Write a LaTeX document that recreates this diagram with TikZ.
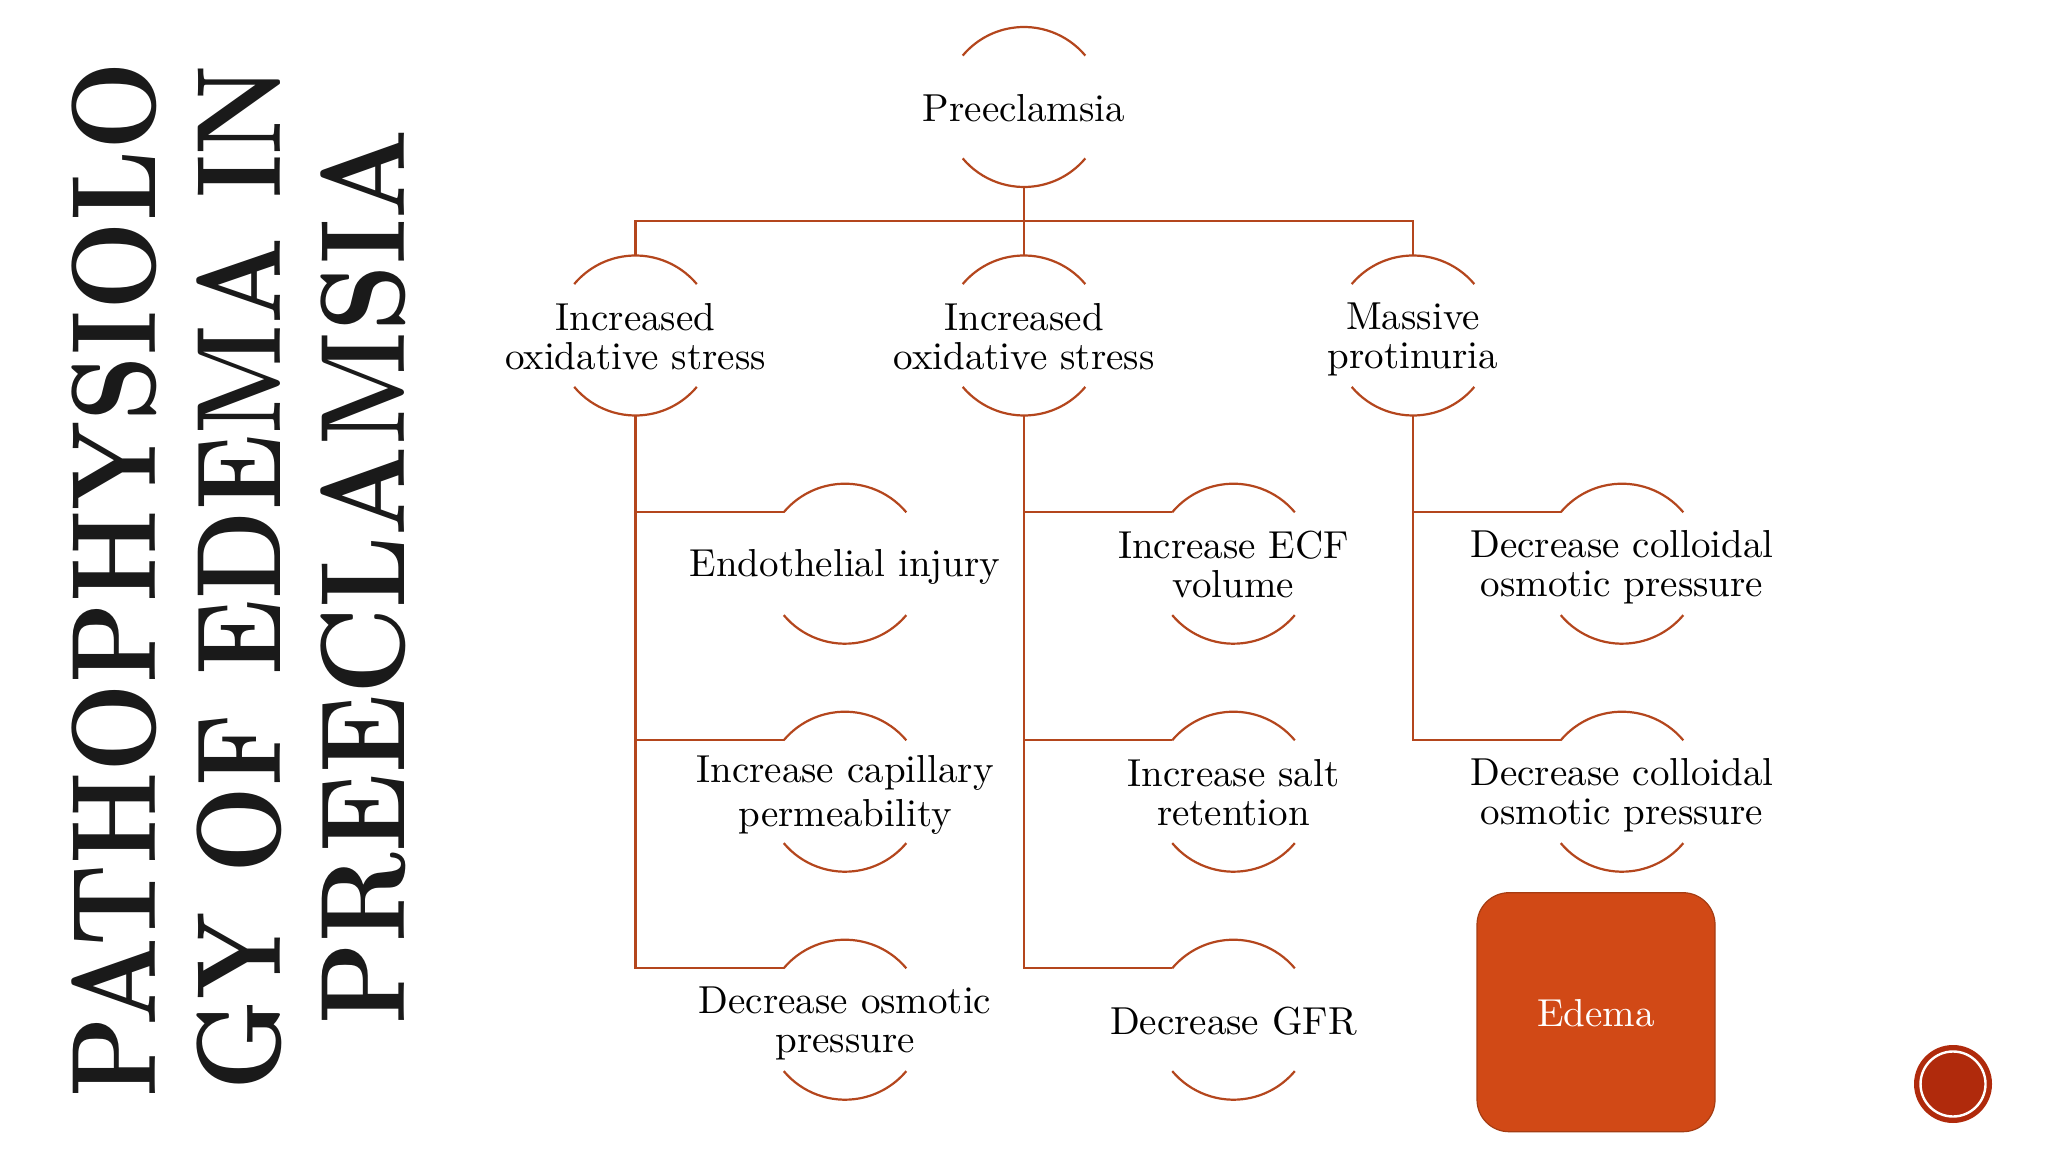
\documentclass[tikz,border=0pt]{standalone}
\usepackage{fontspec}
\setmainfont{lmroman10-regular.otf}[BoldFont=lmroman10-bold.otf, ItalicFont=lmroman10-italic.otf]
\usetikzlibrary{calc}
\definecolor{arcc}{HTML}{B4461D}
\definecolor{edfill}{HTML}{D14916}
\definecolor{edborder}{HTML}{A53C12}
\definecolor{dotc}{HTML}{B02A0C}
\definecolor{titlec}{HTML}{1A1A1A}
\newcommand{\mystrut}{\rule[-2.4pt]{0pt}{19.5pt}}
\newcommand{\mycnode}[4]{%
  \node[lbl] (#1) at (#2,#3) {#4};
  \coordinate (#1-t) at ($(#1.center)+(0,80)$);
  \coordinate (#1-b) at ($(#1.center)+(0,-80)$);
  \coordinate (#1-tl) at ($(#1.center)+(140:80)$);
  \draw[arcline] ($(#1.center)+(40:80)$) arc[start angle=40,end angle=140,radius=80];
  \draw[arcline] ($(#1.center)+(220:80)$) arc[start angle=220,end angle=320,radius=80];
}
\begin{document}
\begin{tikzpicture}[x=0.5pt,y=0.5pt,
  lbl/.style={font=\fontsize{19.5}{19.5}\selectfont, align=center, inner sep=0pt, text=black},
  arcline/.style={draw=arcc, line width=1.1pt},
  conn/.style={draw=arcc, line width=1.1pt},
  titletext/.style={rotate=90, inner sep=0pt, text=titlec, font=\fontsize{60}{60}\selectfont\bfseries},
  edemabox/.style={rectangle, rounded corners=16pt, minimum width=119pt, minimum height=119.5pt,
    fill=edfill, draw=edborder, line width=0.6pt, text=white, inner sep=0pt, font=\fontsize{19.5}{19.5}\selectfont}]
\useasboundingbox (0,0) rectangle (2048,1152);
\fill[white] (0,0) rectangle (2048,1152);

% title
\node[titletext] (t1) at (114.5,572.3) {\scalebox{0.856}[1]{PATHOPHYSIOLO}};
\node[titletext] (t2) at (239,574.5) {\scalebox{0.838}[1]{GY OF EDEMA IN}};
\node[titletext] (t3) at (363.3,575.3) {\scalebox{0.869}[1]{PREECLAMSIA}};

% nodes
\mycnode{pre}{1024}{1045}{\mystrut Preeclamsia}
\mycnode{L}{635.5}{816.5}{\mystrut Increased\\\mystrut oxidative stress}
\mycnode{M}{1024}{816.5}{\mystrut Increased\\\mystrut oxidative stress}
\mycnode{R}{1413}{816.5}{\mystrut Massive\\\mystrut protinuria}

\mycnode{La}{845}{588.3}{\mystrut Endothelial injury}
\mycnode{Lb}{845}{360.3}{\mystrut Increase capillary\\\mystrut permeability}
\mycnode{Lc}{845}{132.3}{\mystrut Decrease osmotic\\\mystrut pressure}

\mycnode{Ma}{1233.5}{588.3}{\mystrut Increase ECF\\\mystrut volume}
\mycnode{Mb}{1233.5}{360.3}{\mystrut Increase salt\\\mystrut retention}
\mycnode{Mc}{1233.5}{132.3}{\mystrut Decrease GFR}

\mycnode{Ra}{1622}{588.3}{\mystrut Decrease colloidal\\\mystrut osmotic pressure}
\mycnode{Rb}{1622}{360.3}{\mystrut Decrease colloidal\\\mystrut osmotic pressure}

\node[edemabox] (edema) at (1596,139.8) {\mystrut Edema};

% connectors
\coordinate (bus) at (1024,931.3);
\draw[conn] (pre-b) -- (M-t);
\draw[conn] (L-t) |- (bus) -| (R-t);

\draw[conn] (L-b) |- (La-tl);
\draw[conn] (L-b) |- (Lb-tl);
\draw[conn] (L-b) |- (Lc-tl);

\draw[conn] (M-b) |- (Ma-tl);
\draw[conn] (M-b) |- (Mb-tl);
\draw[conn] (M-b) |- (Mc-tl);

\draw[conn] (R-b) |- (Ra-tl);
\draw[conn] (R-b) |- (Rb-tl);

% page marker circle
\node[circle, fill=dotc, minimum size=39pt, inner sep=0pt] (dot) at (1953,68) {};
\draw[white, line width=1.2pt] (dot.center) circle[radius=32.5];
\end{tikzpicture}
\end{document}
